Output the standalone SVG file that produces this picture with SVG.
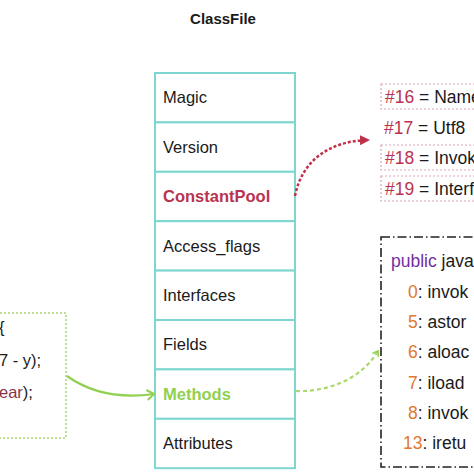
<svg xmlns="http://www.w3.org/2000/svg" width="474" height="474" viewBox="0 0 474 474">
<defs>
<style>
text{font-family:"Liberation Sans",Arial,sans-serif;font-size:16.5px;fill:#1a1a1a}
.title{font-size:15px;font-weight:bold}
.big{font-size:17.5px}
.cell{fill:#fff;stroke:#7dd6cf;stroke-width:2}
.red{fill:#b8334f}
.grn{fill:#92d050}
.org{fill:#e0782e}
.pur{fill:#7030a0}
.brn{fill:#8a3346}
.cp{fill:none;stroke:#dba6b8;stroke-width:1.2;stroke-dasharray:2,2}
</style>
<marker id="redHead" markerWidth="10" markerHeight="10" refX="8" refY="5" orient="auto" markerUnits="userSpaceOnUse">
<path d="M0,0 L10,5 L0,10 Z" fill="#c0304a"/>
</marker>
<marker id="grnOpen" markerWidth="12" markerHeight="12" refX="9" refY="6" orient="auto" markerUnits="userSpaceOnUse">
<path d="M2,1 L9,6 L2,11" fill="none" stroke="#92d050" stroke-width="2"/>
</marker>
<marker id="grnHead" markerWidth="8" markerHeight="8" refX="6" refY="4" orient="auto" markerUnits="userSpaceOnUse">
<path d="M1,0.5 L6,4 L1,7.5" fill="none" stroke="#92d050" stroke-width="1.5"/>
</marker>
</defs>
<rect width="474" height="474" fill="#fff"/>
<text class="title" x="223" y="24" text-anchor="middle">ClassFile</text>

<g id="classfile">
<g id="magic"><rect class="cell" x="155" y="73" width="140" height="49.4"/><text x="163" y="103">Magic</text></g>
<g id="version"><rect class="cell" x="155" y="122.4" width="140" height="49.4"/><text x="163" y="152.5">Version</text></g>
<g id="constantpool"><rect class="cell" x="155" y="171.8" width="140" height="49.4"/><text x="163" y="202" class="red" font-weight="bold">ConstantPool</text></g>
<g id="access_flags"><rect class="cell" x="155" y="221.2" width="140" height="49.4"/><text x="163" y="251.5">Access_flags</text></g>
<g id="interfaces"><rect class="cell" x="155" y="270.6" width="140" height="49.4"/><text x="163" y="300.5">Interfaces</text></g>
<g id="fields"><rect class="cell" x="155" y="320" width="140" height="49.4"/><text x="163" y="350">Fields</text></g>
<g id="methods"><rect class="cell" x="155" y="369.4" width="140" height="49.4"/><text x="163" y="399.5" class="grn" font-weight="bold">Methods</text></g>
<g id="attributes"><rect class="cell" x="155" y="418.8" width="140" height="49.4"/><text x="163" y="449">Attributes</text></g>
</g>

<g id="constpool-entries">
<g id="cp16"><rect class="cp" x="381" y="84" width="100" height="25"/><text class="big" x="385" y="103"><tspan class="red">#16</tspan> = Name</text></g>
<g id="cp17"><text class="big" x="384" y="134"><tspan class="red">#17</tspan> = Utf8</text></g>
<g id="cp18"><rect class="cp" x="381" y="145" width="100" height="25"/><text class="big" x="385" y="164"><tspan class="red">#18</tspan> = Invok</text></g>
<g id="cp19"><rect class="cp" x="381" y="176" width="100" height="25"/><text class="big" x="385" y="195"><tspan class="red">#19</tspan> = Interf</text></g>
</g>

<g id="bytecode">
<rect x="381" y="237" width="110" height="230" fill="none" stroke="#222" stroke-width="1.6" stroke-dasharray="9,3,1.5,3"/>
<text class="big" x="391" y="267"><tspan class="pur">public</tspan> java</text>
<text class="big" x="408" y="298"><tspan class="org">0</tspan>: invok</text>
<text class="big" x="408" y="328"><tspan class="org">5</tspan>: astor</text>
<text class="big" x="408" y="358"><tspan class="org">6</tspan>: aloac</text>
<text class="big" x="408" y="389"><tspan class="org">7</tspan>: iload</text>
<text class="big" x="408" y="419"><tspan class="org">8</tspan>: invok</text>
<text class="big" x="403" y="449"><tspan class="org">13</tspan>: iretu</text>
</g>

<g id="source">
<rect x="-20" y="313" width="86" height="125" fill="none" stroke="#a9d86e" stroke-width="1.6" stroke-dasharray="2,2"/>
<text x="-1" y="333">{</text>
<text x="-1" y="366">7 - y);</text>
<text x="-1" y="398"><tspan class="brn">ear</tspan>);</text>
</g>

<g id="connectors">
<path d="M295,196 C302,160 330,141 368,140" fill="none" stroke="#c0304a" stroke-width="2.5" stroke-dasharray="3,2" marker-end="url(#redHead)"/>
<path d="M67,376 C95,396 125,398 154,394" fill="none" stroke="#92d050" stroke-width="2.2" marker-end="url(#grnOpen)"/>
<path d="M296,391 C330,392 362,378 378,351" fill="none" stroke="#a8d86e" stroke-width="2.2" stroke-dasharray="4,3" marker-end="url(#grnHead)"/>
</g>
</svg>
